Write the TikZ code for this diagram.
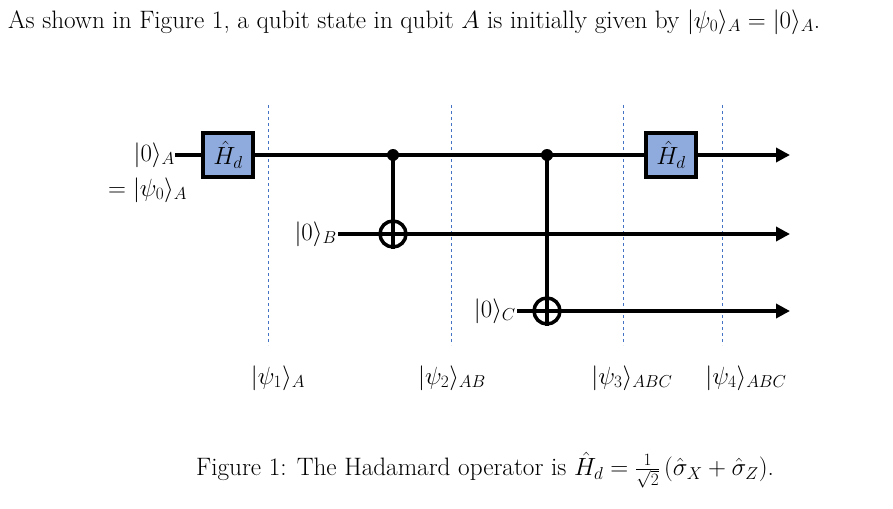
\documentclass[tikz,border=0pt]{standalone}
\usetikzlibrary{arrows.meta}
\begin{document}
\begin{tikzpicture}[x=1pt,y=-1pt,
 wire/.style={line width=4pt},
 gate/.style={draw,line width=3.5pt,fill={rgb,255:red,143;green,170;blue,220},minimum width=50pt,minimum height=44pt,font=\fontsize{26}{28}\selectfont},
 targ/.style={circle,draw,line width=3.5pt,minimum size=26pt,inner sep=0pt},
 dot/.style={circle,fill,inner sep=0pt,minimum size=12pt},
 sep/.style={dashed,draw={rgb,255:red,68;green,114;blue,196},line width=0.8pt},
 lbl/.style={font=\fontsize{27}{29}\selectfont},
 txt/.style={font=\fontsize{25.2}{27}\selectfont}]
\useasboundingbox (0,0) rectangle (893,508);
\node[txt,anchor=west,inner sep=0pt] (top) at (8,22) {As shown in Figure 1, a qubit state in qubit $A$ is initially given by $|\psi_0\rangle_A=|0\rangle_A$.};
\node[txt] (cap) at (485,470) {Figure 1: The Hadamard operator is $\hat H_d=\frac{1}{\sqrt2}\left(\hat\sigma_X+\hat\sigma_Z\right)$.};
\foreach \x/\n in {268/d1,451/d2,623/d3,722/d4}{
 \coordinate (\n t) at (\x,105); \coordinate (\n b) at (\x,345);
 \draw[sep] (\n t) -- (\n b);}
\node[lbl,anchor=east,inner sep=1pt] (a0) at (176,155) {$|0\rangle_A$};
\node[lbl,anchor=west,inner sep=0pt] (a1) at (108,190) {$=|\psi_0\rangle_A$};
\node[lbl,anchor=east,inner sep=1pt] (b0) at (338,234) {$|0\rangle_B$};
\node[lbl,anchor=east,inner sep=1pt] (c0) at (517,311) {$|0\rangle_C$};
\coordinate (ws) at (175,155);
\coordinate (bs) at (338,234);
\coordinate (cs) at (517,311);
\coordinate (ae) at (790,155);
\coordinate (be) at (790,234);
\coordinate (ce) at (790,311);
\node[gate] (h1) at (228,155) {$\hat H_d$};
\node[gate] (h2) at (671,155) {$\hat H_d$};
\node[dot] (p1) at (393,155) {};
\node[dot] (p2) at (547,155) {};
\node[targ] (t1) at (393,234) {};
\node[targ] (t2) at (547,311) {};
\draw[wire] (ws) -- (h1.west);
\draw[wire] (h1.east) -- (h2.west);
\draw[wire,-{Triangle[length=14pt,width=14pt]}] (h2.east) -- (ae);
\draw[wire,-{Triangle[length=14pt,width=14pt]}] (bs) -- (be);
\draw[wire,-{Triangle[length=14pt,width=14pt]}] (cs) -- (ce);
\draw[line width=3.5pt] (p1.center) -- (t1.south);
\draw[line width=3.5pt] (p2.center) -- (t2.south);
\node[lbl] (s1) at (278,378) {$|\psi_1\rangle_A$};
\node[lbl] (s2) at (452,378) {$|\psi_2\rangle_{AB}$};
\node[lbl] (s3) at (632,378) {$|\psi_3\rangle_{ABC}$};
\node[lbl] (s4) at (746,378) {$|\psi_4\rangle_{ABC}$};
\end{tikzpicture}
\end{document}
